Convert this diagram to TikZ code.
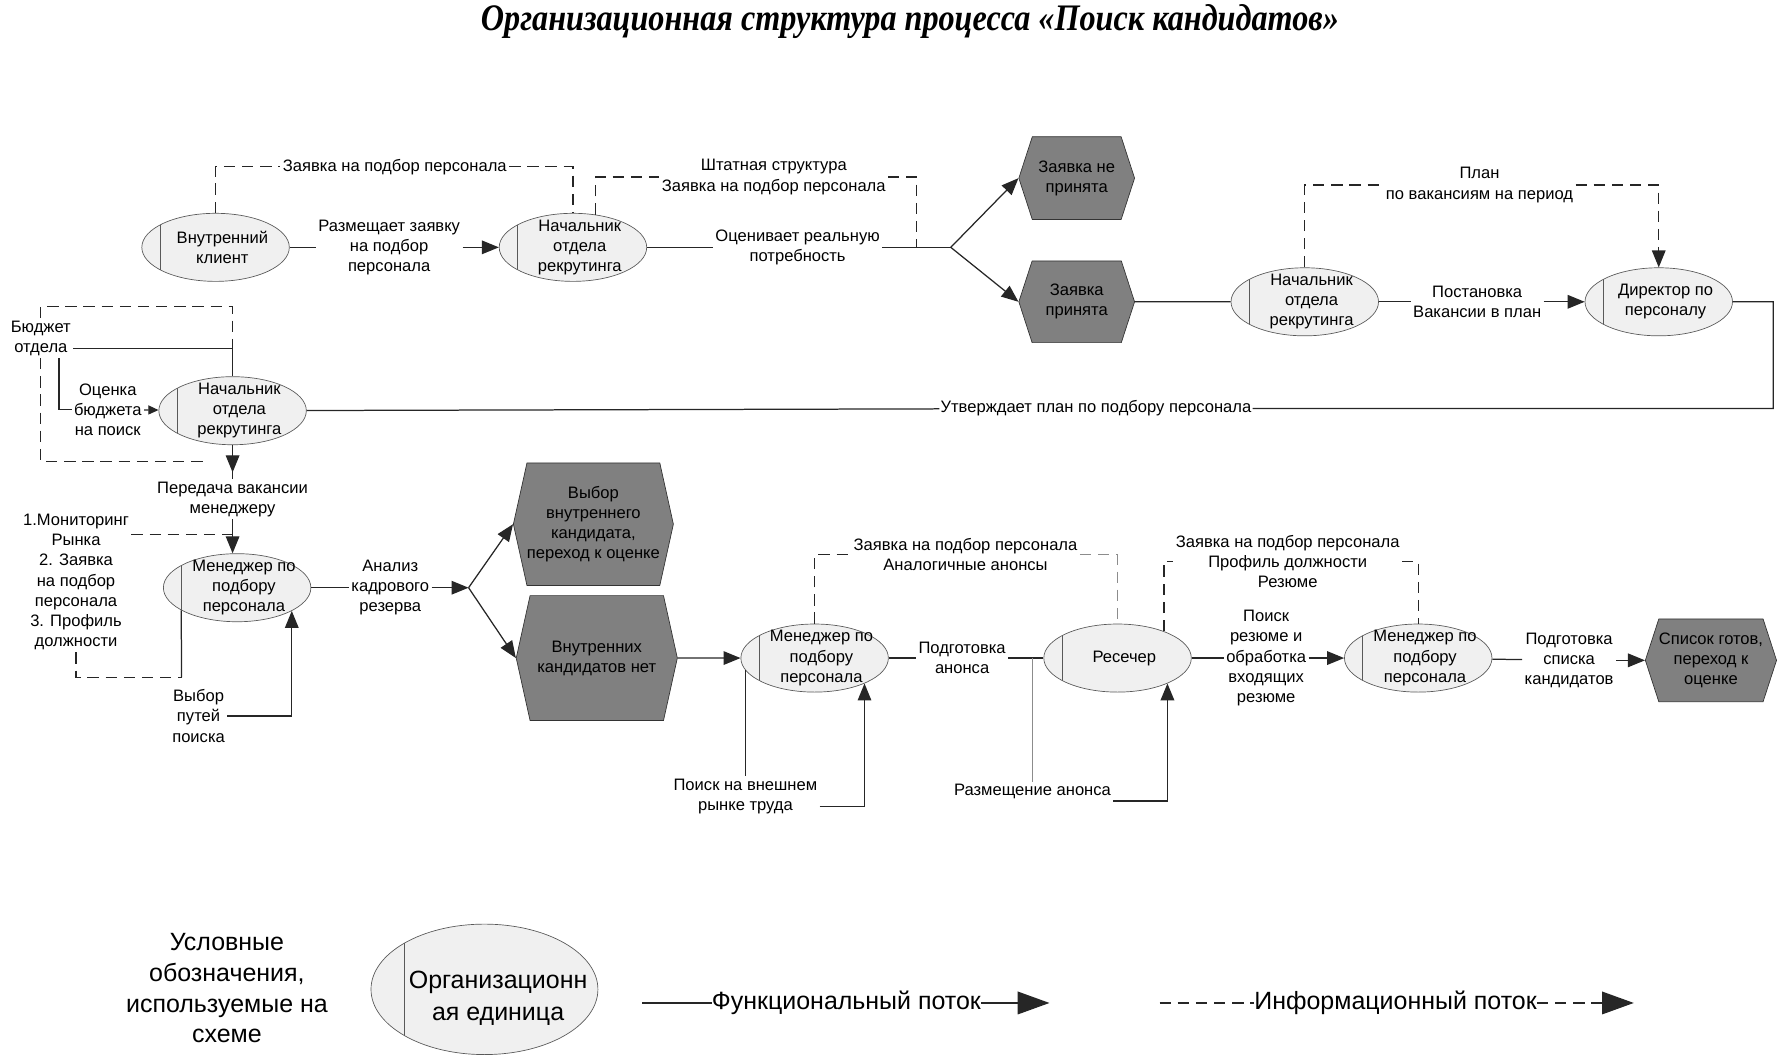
\documentclass[tikz,border=0pt]{standalone}
\usepackage{fontspec}
\usepackage{graphicx}
\setmainfont{Liberation Sans}
\newfontfamily\titlefont{Liberation Serif}
\usepackage{tikz}
\usetikzlibrary{arrows.meta,shapes,positioning,decorations.markings}
\tikzset{>={Triangle[length=15pt,width=12pt]}}

\begin{document}
\begin{tikzpicture}[x=1pt,y=-1pt,
    lbl/.style={align=center, font=\fontsize{14.6}{17.8}\selectfont, inner sep=2pt},
    orgunit/.style={ellipse, draw=black!65, line width=0.6pt, fill=black!6,
        minimum width=130pt, minimum height=60pt, inner sep=0pt,
        path picture={\draw[black!65] ([xshift=16pt]path picture bounding box.south west)
            -- ([xshift=16pt]path picture bounding box.north west);},
        label={[lbl,xshift=6pt]center:#1}},
    legendunit/.style={ellipse, draw=black!65, line width=0.6pt, fill=black!6,
        minimum width=200pt, minimum height=115pt, inner sep=0pt,
        path picture={\draw[black!65] ([xshift=29pt]path picture bounding box.south west)
            -- ([xshift=29pt]path picture bounding box.north west);},
        label={[align=center,font=\fontsize{22}{28}\selectfont,xshift=12pt,yshift=-8pt]center:#1}},
    event/.style={signal, signal to=west and east, draw=black!80, line width=0.6pt,
        fill=black!50, inner sep=0pt, align=center, font=\fontsize{14.6}{17.8}\selectfont},
    flow/.style={line width=1.1pt, black!85},
    info/.style={line width=1.1pt, black!85, dash pattern=on 10pt off 6pt},
    thinline/.style={line width=0.6pt, black!45},
    midarrow/.style={postaction={decorate,decoration={markings,mark=at position #1 with {\arrow{>}}}}},
   ]

\useasboundingbox (0,0) rectangle (1568,937);

% title
\node (title) at (802,19) {\titlefont\bfseries\itshape\fontsize{33}{35}\selectfont
    \scalebox{0.86}[1]{Организационная структура процесса «Поиск кандидатов»}};

% upper row
\node[orgunit={Внутренний\\клиент}] (client) at (190,218) {};
\node[orgunit={Начальник\\отдела\\рекрутинга}] (head1) at (505,218) {};
\node[lbl] (post) at (343,218) {Размещает заявку\\на подбор\\персонала};
\draw[flow] (client) -- (post);
\draw[flow,->] (post) -- (head1);

\node[lbl] (req1) at (348,147) {Заявка на подбор персонала};
\draw[info] (client) |- (req1);
\draw[info] (req1) -| (head1);

\node[lbl] (staff) at (682,156) {Штатная структура\\Заявка на подбор персонала};
\node[lbl] (assess) at (703,218) {Оценивает реальную\\потребность};
\coordinate (fork1) at (838,218);
\coordinate (staffend) at (808,218);
\draw[flow] (head1) -- (assess);
\draw[flow] (assess) -- (fork1);
\draw[info] (head1.55) |- (staff);
\draw[info] (staff) -| (staffend);

\node[event, minimum width=102pt, minimum height=73pt, signal pointer angle=144] (reject) at (949,157) {Заявка не\\принята};
\node[event, minimum width=102pt, minimum height=72pt, signal pointer angle=144] (accept) at (949,266) {Заявка\\принята};
\draw[flow,->] (fork1) -- (reject.west);
\draw[flow,->] (fork1) -- (accept.west);

\node[orgunit={Начальник\\отдела\\рекрутинга}] (head2) at (1150,266) {};
\node[lbl] (plan) at (1302,266) {Постановка\\Вакансии в план};
\node[orgunit={Директор по\\персоналу}] (director) at (1462,266) {};
\draw[flow] (accept) -- (head2);
\draw[flow] (head2) -- (plan);
\draw[flow,->] (plan) -- (director);

\node[lbl] (period) at (1304,163) {План\\по вакансиям на период};
\draw[info] (head2) |- (period);
\draw[info,->] (period) -| (director);

% budget and approval
\node[orgunit={Начальник\\отдела\\рекрутинга}] (head3) at (205,362) {};
\coordinate (corner1) at (1563,360);
\node[lbl, inner sep=1pt] (approve) at (966,360) {Утверждает план по подбору персонала};
\draw[flow] (director) -| (corner1) -- (approve) -- (head3);

\node[lbl] (budget) at (36,298) {Бюджет\\отдела};
\coordinate (budbox) at (205,270);
\coordinate (budtop) at (205,307);
\coordinate (budend) at (180,407);
\draw[info] (budget.north) |- (budbox) -- (budtop);
\draw[info] (budget.south) |- (budend);
\draw[flow] ([yshift=-9pt]budget.east) -| (head3);

\node[lbl] (estimate) at (95,361) {Оценка\\бюджета\\на поиск};
\draw[flow] ([xshift=16pt]budget.south) |- (estimate);
\draw[flow,-{Triangle[length=9pt,width=8pt]}] (estimate) -- (head3);

% manager, internal search
\node[lbl] (handover) at (205,440) {Передача вакансии\\менеджеру};
\node[orgunit={Менеджер по\\подбору\\персонала}] (manager1) at (209,518) {};
\draw[flow,midarrow=0.8] (head3) -- (handover);
\draw[flow,->] (handover) -- (handover |- manager1.north);

\node[lbl] (monitor) at (67,513) {1.Мониторинг\\Рынка\\2. Заявка\\на подбор\\персонала\\3. Профиль\\должности};
\draw[info] ([yshift=42pt]monitor.east) -- ([yshift=42pt]monitor.east -| handover);

\coordinate (loop1) at (160,597);
\draw[flow] (manager1.202) -- (loop1);
\draw[info] (monitor) |- (loop1);
\node[lbl] (ways) at (175,631) {Выбор\\путей\\поиска};
\draw[flow,->] (ways) -| (manager1.337);

\node[lbl] (reserve) at (344,518) {Анализ\\кадрового\\резерва};
\coordinate (fork2) at (413,518);
\draw[flow] (manager1) -- (reserve);
\draw[flow,->] (reserve) -- (fork2);
\node[event, minimum width=137pt, minimum height=108pt, signal pointer angle=155] (internal) at (523,462) {Выбор\\внутреннего\\кандидата,\\переход к оценке};
\node[event, minimum width=142pt, minimum height=110pt, signal pointer angle=155] (noint) at (526,580) {Внутренних\\кандидатов нет};
\draw[flow,->] (fork2) -- (internal.west);
\draw[flow,->] (fork2) -- (noint.west);

% external search
\node[orgunit={Менеджер по\\подбору\\персонала}] (manager2) at (718,580) {};
\draw[flow,->] (noint) -- (manager2);
\node[lbl] (external) at (657,702) {Поиск на внешнем\\рынке труда};
\draw[flow] (manager2.190) -- (manager2.190 |- external.north);
\draw[flow,->] ([yshift=-9pt]external.east) -| (manager2.333);

\node[lbl] (analog) at (851,489) {Заявка на подбор персонала\\Аналогичные анонсы};
\node[orgunit={Ресечер}] (researcher) at (985,580) {};
\draw[info] (manager2) |- (analog);
\draw[info,thinline] (analog) -| (researcher);

\node[lbl] (advert) at (848,580) {Подготовка\\анонса};
\draw[flow] (manager2) -- (advert) -- (researcher);
\coordinate (place) at (910,580);
\node[lbl] (placing) at (910,698) {Размещение анонса};
\draw[thinline] (place) -- (placing);
\draw[flow,line width=1.6pt,->] ([yshift=-8pt]placing.east) -| (researcher.333);

\node[lbl] (resume) at (1135,495) {Заявка на подбор персонала\\Профиль должности\\Резюме};
\node[orgunit={Менеджер по\\подбору\\персонала}] (manager3) at (1250,580) {};
\draw[info] (researcher.30) |- (resume);
\draw[info] (resume) -| (manager3);

\node[lbl] (search) at (1116,580) {Поиск\\резюме и\\обработка\\входящих\\резюме};
\draw[flow] (researcher) -- (search);
\draw[flow,->] (search) -- (manager3);

\node[lbl] (listprep) at (1383,582) {Подготовка\\списка\\кандидатов};
\node[event, minimum width=107pt, minimum height=73pt, signal pointer angle=144] (ready) at (1508,582) {Список готов,\\переход к\\оценке};
\draw[flow] (manager3) -- (listprep);
\draw[flow,->] (listprep) -- (ready);

% legend
\node[align=center, font=\fontsize{22}{27}\selectfont] (legend) at (200,871) {Условные\\обозначения,\\используемые на\\схеме};
\node[legendunit={Организационн\\ая единица}] (sample) at (427,872) {};

\coordinate (f0) at (566,884);
\node[inner sep=0pt, font=\fontsize{22}{24}\selectfont] (funcflow) at (746,884) {Функциональный поток};
\coordinate (f1) at (925,884);
\draw[flow] (f0) -- (funcflow);
\draw[flow,-{Triangle[length=28pt,width=20pt]}] (funcflow) -- (f1);

\coordinate (i0) at (1022,884);
\node[inner sep=0pt, font=\fontsize{22}{24}\selectfont] (infoflow) at (1230,884) {Информационный поток};
\coordinate (i1) at (1440,884);
\draw[info] (i0) -- (infoflow);
\draw[info,-{Triangle[length=28pt,width=20pt]}] (infoflow) -- (i1);

\end{tikzpicture}
\end{document}
